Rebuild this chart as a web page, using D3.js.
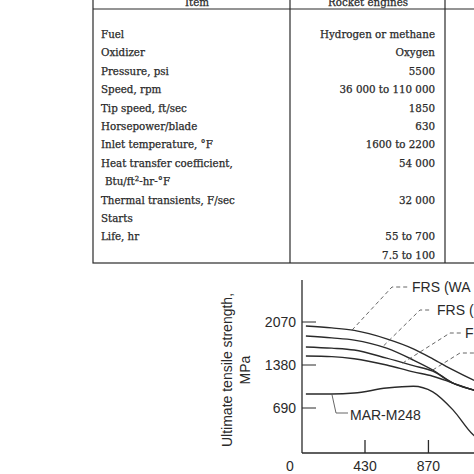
<!DOCTYPE html>
<html><head><meta charset="utf-8">
<script src="https://cdn.jsdelivr.net/npm/d3@7"></script>
<style>body{margin:0;background:#fff}svg{display:block}</style>
</head><body>
<div id="chart-area"></div>
<script>
// table
const itemLabels = ["Fuel", "Oxidizer", "Pressure, psi", "Speed, rpm", "Tip speed, ft/sec", "Horsepower/blade",
  "Inlet temperature, °F", "Heat transfer coefficient,", "", "Thermal transients, F/sec", "Starts", "Life, hr", ""]
const rocketValues = ["Hydrogen or methane", "Oxygen", "5500", "36 000 to 110 000", "1850", "630",
  "1600 to 2200", "54 000", "", "32 000", "", "55 to 700", "7.5 to 100"]

// chart
const tempTicks = [0, 430, 870]
const strengthTicks = [690, 1380, 2070]
const tempX = [20, 200, 355, 580, 765, 900, 1040, 1180, 1300]
const frsWA = [2006, 1975, 1935, 1800, 1640, 1480, 1300, 1140, 1020]
const frs2 = [1845, 1815, 1780, 1650, 1460, 1300, 1090, 980, 900]
const frs3 = [1670, 1650, 1620, 1490, 1370, 1280, 1090, 980, 900]
const frs4 = [1525, 1515, 1480, 1380, 1270, 1200, 1090, 980, 900]
const marM248 = [915, 915, 930, 1010, 1040, 950, 660, 260, 100]
const curveNames = ["FRS (WA", "FRS (", "F", "", "MAR-M248"]

const W = 474, H = 474
const svg = d3.select("#chart-area").append("svg").attr("width", W).attr("height", H)
const ink = "#2a2a2a"

// ---- table ----
const tb = svg.append("g")
tb.append("rect").attr("x", 93).attr("y", -20).attr("width", 400).attr("height", 283)
  .attr("fill", "none").attr("stroke", ink).attr("stroke-width", 1.2)
tb.append("line").attr("x1", 93).attr("x2", 474).attr("y1", 9).attr("y2", 9).attr("stroke", ink).attr("stroke-width", 1.2)
;[290, 445].forEach(x => tb.append("line").attr("x1", x).attr("x2", x).attr("y1", -20).attr("y2", 263).attr("stroke", ink).attr("stroke-width", 1.2))
tb.append("text").attr("x", 197).attr("y", 6).attr("text-anchor", "middle").text("Item")
tb.append("text").attr("x", 368).attr("y", 6).attr("text-anchor", "middle").text("Rocket engines")
const rowY = i => 38 + i * 18.4
tb.selectAll(".lab").data(itemLabels).enter().append("text").attr("class", "lab")
  .attr("x", 101).attr("y", (d, i) => rowY(i)).text(d => d)
tb.append("text").attr("x", 105).attr("y", rowY(8))
  .html("Btu/ft<tspan dy='-4' font-size='7'>2</tspan><tspan dy='4'>-hr-°F</tspan>")
tb.selectAll(".val").data(rocketValues).enter().append("text").attr("class", "val")
  .attr("x", 435).attr("y", (d, i) => rowY(i)).attr("text-anchor", "end").text(d => d)
tb.selectAll("text").attr("font-family", "DejaVu Serif").attr("font-size", 10.3).attr("fill", ink)
  .attr("stroke", ink).attr("stroke-width", 0.25)

// ---- chart ----
const x = d3.scaleLinear().domain([0, 430]).range([303, 365])
const y = d3.scaleLinear().domain([0, 690]).range([451, 408])
const g = svg.append("g").attr("font-family", "Liberation Sans, Arial").attr("fill", ink)
g.append("line").attr("x1", 302).attr("x2", 302).attr("y1", 280).attr("y2", 453).attr("stroke", ink).attr("stroke-width", 1.3)
g.append("line").attr("x1", 302).attr("x2", 474).attr("y1", 453).attr("y2", 453).attr("stroke", ink).attr("stroke-width", 1.3)
strengthTicks.forEach(v => {
  g.append("line").attr("x1", 302).attr("x2", 316).attr("y1", y(v)).attr("y2", y(v)).attr("stroke", ink)
  g.append("text").attr("x", 296).attr("y", y(v) + 5).attr("text-anchor", "end").attr("font-size", 14).text(v)
})
tempTicks.forEach(v => {
  if (v > 0) g.append("line").attr("x1", x(v)).attr("x2", x(v)).attr("y1", 453).attr("y2", 440).attr("stroke", ink).attr("stroke-width", 1.3)
  g.append("text").attr("x", v === 0 ? 290 : x(v)).attr("y", 471).attr("text-anchor", "middle").attr("font-size", 14).text(v)
})
const yl = g.append("text").attr("transform", "translate(237,370) rotate(-90)").attr("text-anchor", "middle").attr("font-size", 14)
yl.append("tspan").attr("x", 0).attr("y", -5).text("Ultimate tensile strength,")
yl.append("tspan").attr("x", 0).attr("y", 13).text("MPa")

const line = d3.line().x((d, i) => x(tempX[i])).y(d => y(d)).curve(d3.curveMonotoneX)
;[frsWA, frs2, frs3, frs4, marM248].forEach(s => {
  g.append("path").attr("d", line(s)).attr("fill", "none").attr("stroke", ink).attr("stroke-width", 1.4)
})

const leaders = [
  [340, 1940, [392, 287], [408, 287], 412, 292, curveNames[0]],
  [560, 1690, [420, 310], [432, 310], 437, 315, curveNames[1]],
  [690, 1410, [450, 333], [461, 333], 465, 338, curveNames[2]],
  [900, 1300, [460, 353], [474, 353], 480, 358, curveNames[3]]
]
leaders.forEach(l => {
  g.append("path").attr("d", `M${x(l[0])},${y(l[1])}L${l[2][0]},${l[2][1]}L${l[3][0]},${l[3][1]}`)
    .attr("fill", "none").attr("stroke", "#555").attr("stroke-dasharray", "4,3").attr("stroke-width", 0.9)
  g.append("text").attr("x", l[4]).attr("y", l[5]).attr("font-size", 14).text(l[6])
})
g.append("path").attr("d", `M${x(200)},${y(915)}L${336},${413}L${348},${413}`)
  .attr("fill", "none").attr("stroke", "#555").attr("stroke-width", 0.9)
g.append("text").attr("x", 350).attr("y", 420).attr("font-size", 14).text(curveNames[4])
</script>
</body></html>
